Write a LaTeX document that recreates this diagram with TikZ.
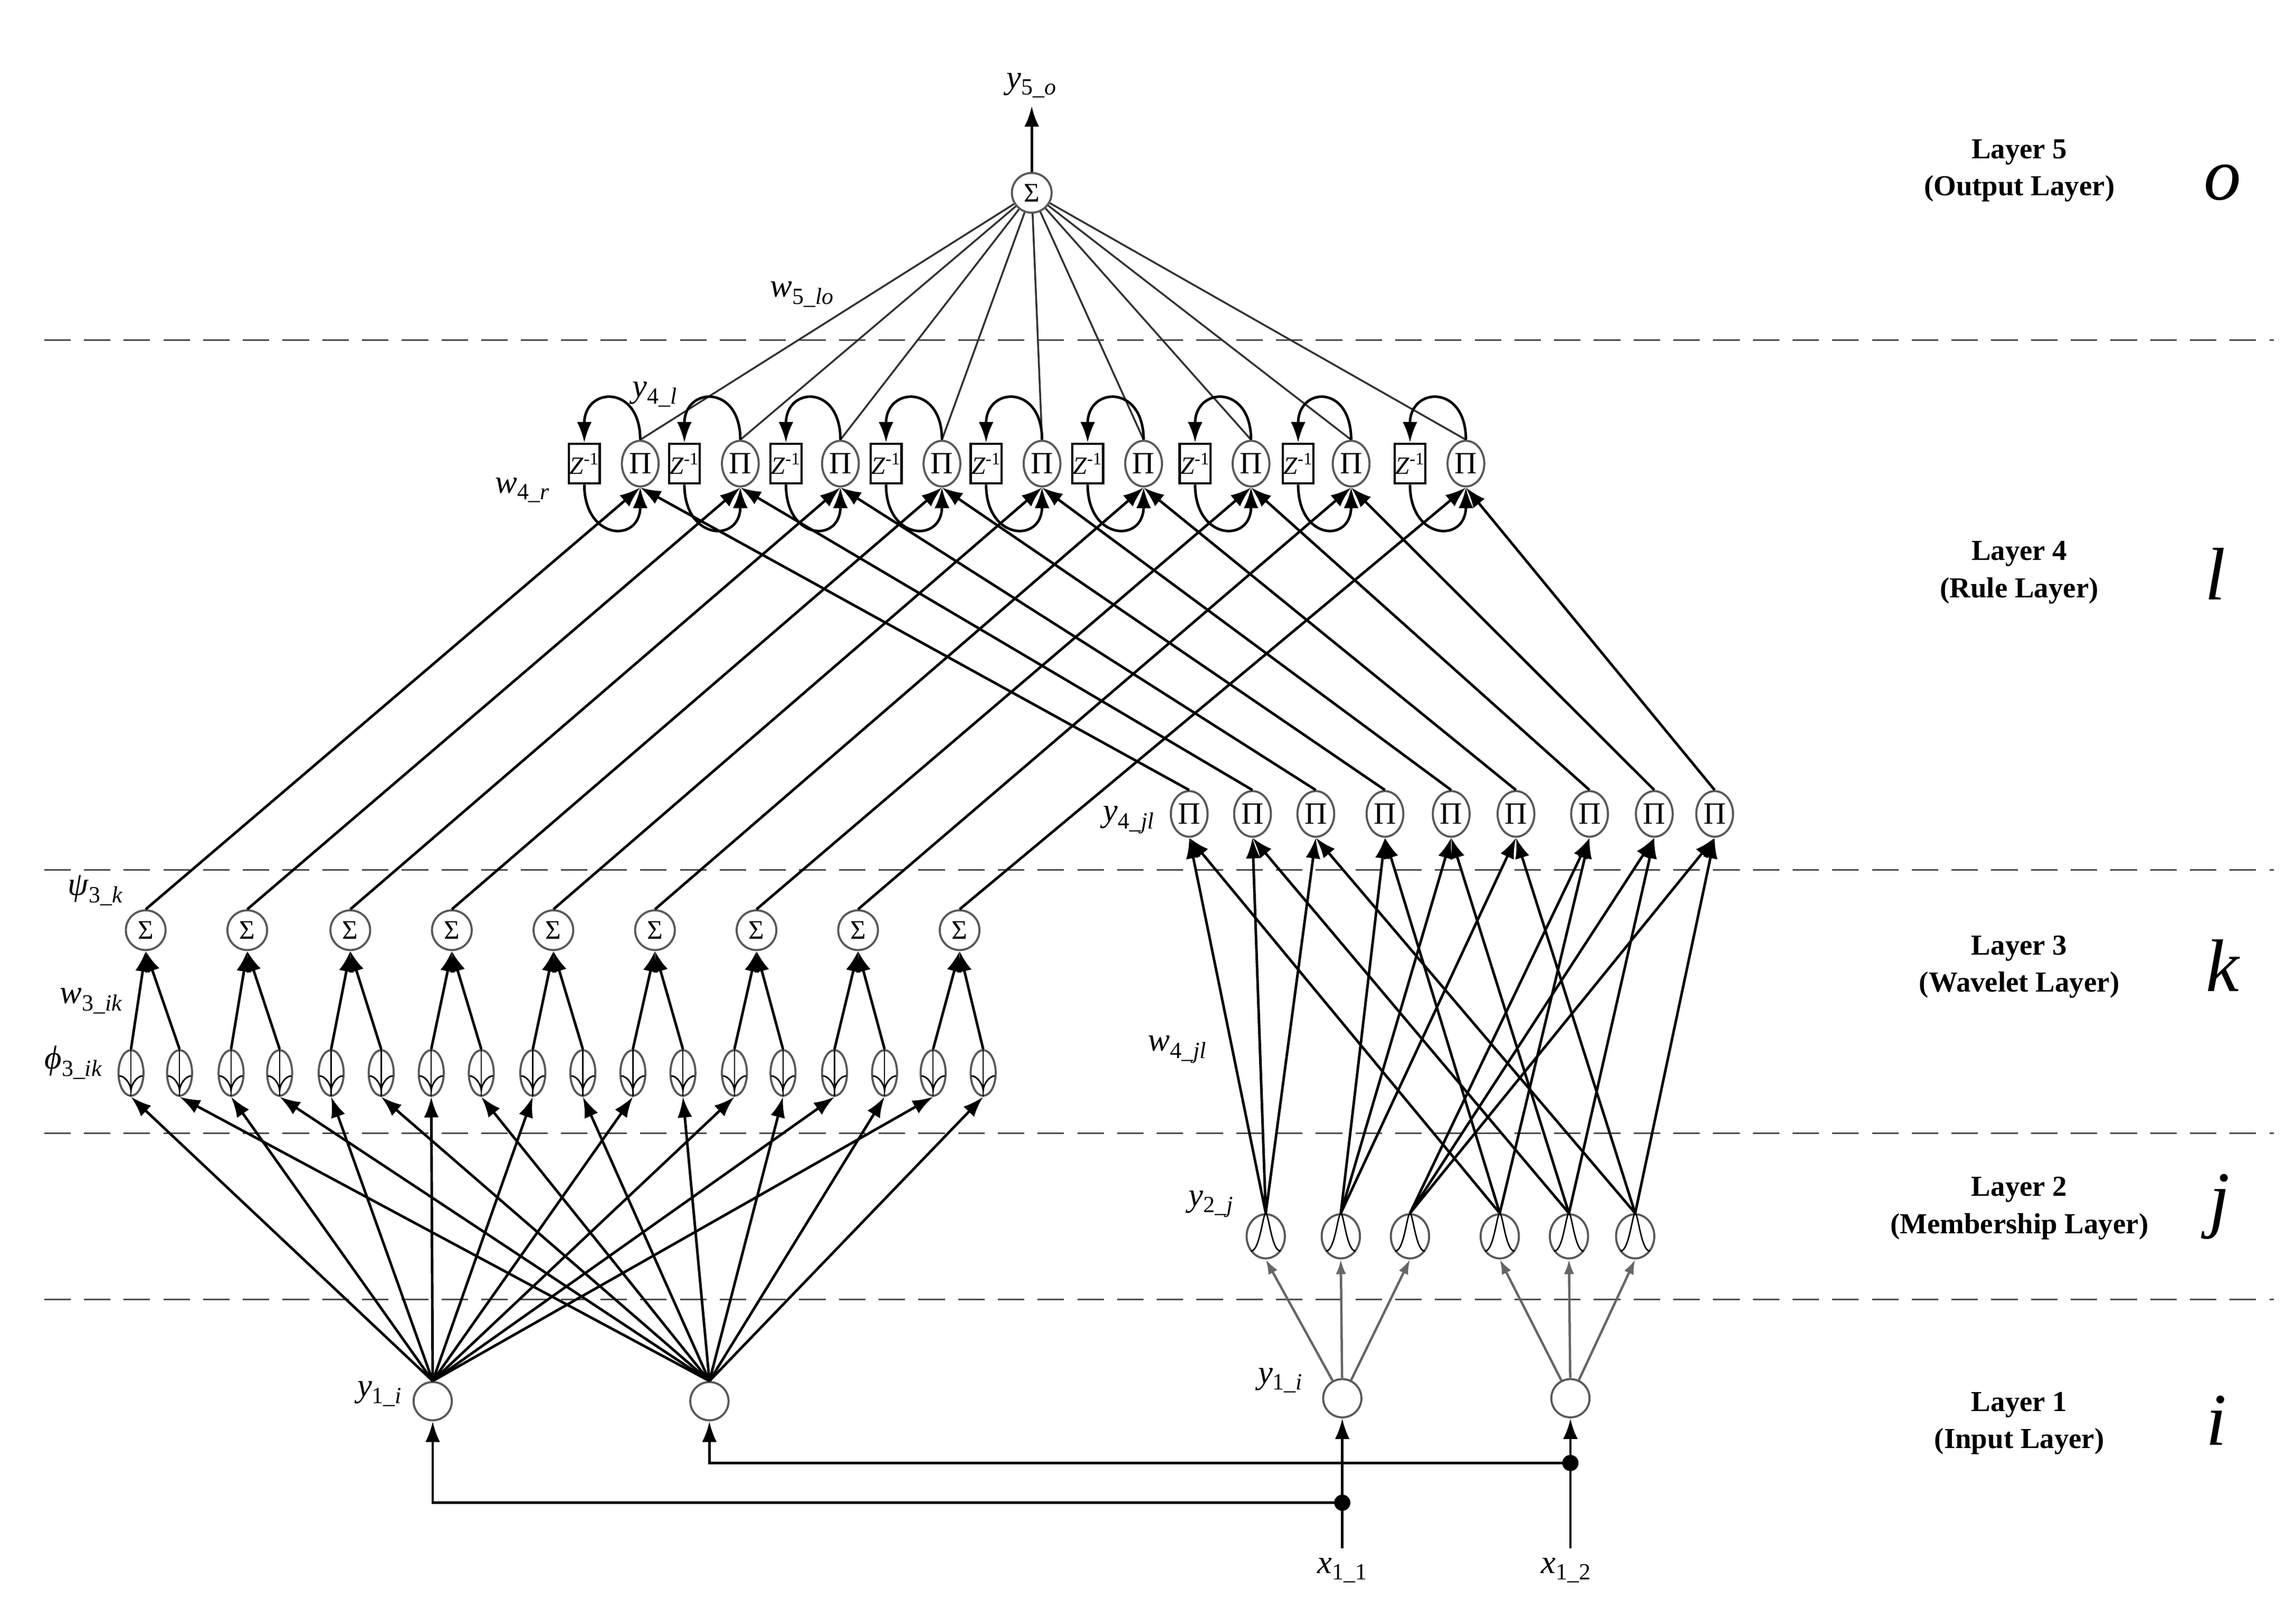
\documentclass[tikz,border=0pt]{standalone}
\usepackage{fontspec}
\setmainfont{Liberation Serif}
\usetikzlibrary{arrows.meta,shapes.geometric}
\newcommand\lbl[2]{\textit{#1}\textsubscript{#2}}
\begin{document}
\begin{tikzpicture}[x=0.05cm,y=-0.05cm,
  ln/.style={line width=2.5pt,black},
  ar/.style={ln,-{Latex[length=0.7cm,width=0.5cm]}},
  gar/.style={line width=2.3pt,gray!80!black,-{Latex[length=0.5cm,width=0.35cm]}},
  nd/.style={draw=gray!70!black,line width=2pt,fill=white,inner sep=0pt},
  sg/.style={nd,circle,minimum size=1.35cm,font=\fontsize{26}{26}\selectfont},
  pl/.style={nd,ellipse,minimum width=1.25cm,minimum height=1.55cm,font=\fontsize{30}{30}\selectfont},
  zb/.style={draw,line width=2.2pt,fill=white,minimum width=1.05cm,minimum height=1.35cm,inner sep=0pt,font=\fontsize{24}{24}\selectfont},
  ph/.style={nd,ellipse,minimum width=0.85cm,minimum height=1.55cm},
  mu/.style={nd,ellipse,minimum width=1.3cm,minimum height=1.5cm},
  inp/.style={nd,circle,minimum size=1.3cm},
  lab/.style={font=\fontsize{32}{32}\selectfont},
  lay/.style={font=\bfseries\fontsize{28}{36}\selectfont,align=center},
  big/.style={font=\itshape\fontsize{72}{72}\selectfont},
  dl/.style={line width=1.5pt,gray!60!black,dash pattern=on 0.9cm off 0.45cm}]
\useasboundingbox (0,0) rectangle (1560,1087);
% dashed lines
\foreach \yy/\nm in {231/a,591/b,770/c,883/d}{
  \coordinate (dL\nm) at (30,\yy); \coordinate (dR\nm) at (1545,\yy);
  \draw[dl] (dL\nm) -- (dR\nm);}
% output
\node[sg] (O) at (701,131) {Σ};
\coordinate (yo) at (701,72);
\draw[ar] (O) -- (yo);
\node[lab] at (701,58) {\lbl{y}{5\_\textit{o}}};
% layer 4 Z and Pi
\foreach \i/\zx/\px in {1/397/435,2/465/503,3/534/571,4/602/640,5/670/708,6/739/777,7/812/850,8/882/918,9/958/996}{
  \node[zb] (Z\i) at (\zx,315) {\textit{Z}\textsuperscript{-1}};
  \node[pl] (P\i) at (\px,315) {Π};
  \draw[line width=1.8pt,gray!40!black] (O) -- (P\i.north);
  \draw[ar] (P\i.north) .. controls +(0,-38) and +(0,-38) .. (Z\i.north);
  \draw[ar] (Z\i.south) .. controls +(0,38) and +(0,38) .. (P\i.south);
}
% rule-layer Pi (jl)
\foreach \i/\xx in {1/808,2/851,3/894,4/941,5/986,6/1030,7/1080,8/1124,9/1165}{
  \node[pl] (Q\i) at (\xx,553) {Π};
}
% wavelet sums
\foreach \i/\xx in {1/99,2/168,3/238,4/307,5/376,6/445,7/514,8/583,9/652}{
  \node[sg] (S\i) at (\xx,632) {Σ};
}
% phi nodes
\foreach \i/\xx in {1/89,2/122,3/157,4/190,5/225,6/259,7/293,8/327,9/362,10/396,11/430,12/464,13/499,14/532,15/567,16/601,17/634,18/668}{
  \node[ph] (F\i) at (\xx,729) {};
  \draw[line width=1.2pt] (F\i.north) -- (F\i.south);
  \draw[line width=1.5pt] ([shift={(-8,2)}]F\i.center) .. controls +(4,0) and +(0,-4) .. ([shift={(0,12)}]F\i.center) .. controls +(0,-4) and +(-4,0) .. ([shift={(8,2)}]F\i.center);
}
% membership
\foreach \i/\xx in {1/860,2/911,3/958,4/1019,5/1066,6/1111}{
  \node[mu] (M\i) at (\xx,840) {};
  \draw[line width=1.4pt] ([shift={(-10,10)}]M\i.center) .. controls +(6,0) and +(-2,0) .. (M\i.north) .. controls +(2,0) and +(-6,0) .. ([shift={(10,10)}]M\i.center);
}
% inputs
\node[inp] (I1) at (294,952) {};
\node[inp] (I2) at (482,952) {};
\node[inp] (I3) at (912,950) {};
\node[inp] (I4) at (1067,950) {};
\coordinate (X1) at (912,1052);
\coordinate (X2) at (1067,1052);
\coordinate (J1) at (912,1021);
\coordinate (J2) at (1067,994);
\draw[ar] (X1) -- (I3);
\draw[ar] (X2) -- (I4);
\draw[ar] (J1) -| (I1);
\draw[ar] (J2) -| (I2);
\fill (J1) circle (5.5); \fill (J2) circle (5.5);
% membership arrows
\foreach \m in {1,2,3}{\draw[gar] (I3) -- (M\m.south);}
\foreach \m in {4,5,6}{\draw[gar] (I4) -- (M\m.south);}
% inputs to phi
\foreach \k in {1,3,5,7,9,11,13,15,17}{\draw[ar] (I1.north) -- (F\k.south);}
\foreach \k in {2,4,6,8,10,12,14,16,18}{\draw[ar] (I2.north) -- (F\k.south);}
% phi to sums
\foreach \k [evaluate=\k as \a using int(2*\k-1), evaluate=\k as \b using int(2*\k)] in {1,...,9}{
  \draw[ar] (F\a.north) -- (S\k.south);
  \draw[ar] (F\b.north) -- (S\k.south);
  \draw[ar] (S\k.north) -- (P\k.south);
  \draw[ar] (Q\k.north) -- (P\k.south);
}
% membership to rules
\foreach \q/\a/\b in {1/1/4,2/1/5,3/1/6,4/2/4,5/2/5,6/2/6,7/3/4,8/3/5,9/3/6}{
  \draw[ar] (M\a.north) -- (Q\q.south);
  \draw[ar] (M\b.north) -- (Q\q.south);
}
% labels
\node[lab] at (545,200) {\lbl{w}{5\_\textit{lo}}};
\node[lab] at (445,268) {\lbl{y}{4\_\textit{l}}};
\node[lab] at (355,333) {\lbl{w}{4\_\textit{r}}};
\node[lab] at (767,557) {\lbl{y}{4\_\textit{jl}}};
\node[lab] at (65,605) {\lbl{ψ}{3\_\textit{k}}};
\node[lab] at (62,680) {\lbl{w}{3\_\textit{ik}}};
\node[lab] at (50,722) {\lbl{ϕ}{3\_\textit{ik}}};
\node[lab] at (800,713) {\lbl{w}{4\_\textit{jl}}};
\node[lab] at (823,818) {\lbl{y}{2\_\textit{j}}};
\node[lab] at (258,947) {\lbl{y}{1\_\textit{i}}};
\node[lab] at (870,938) {\lbl{y}{1\_\textit{i}}};
\node[lab] at (912,1067) {\lbl{x}{1\_1}};
\node[lab] at (1064,1067) {\lbl{x}{1\_2}};
\node[lay] at (1372,116) {Layer 5\\(Output Layer)};
\node[lay] at (1372,389) {Layer 4\\(Rule Layer)};
\node[lay] at (1372,657) {Layer 3\\(Wavelet Layer)};
\node[lay] at (1372,821) {Layer 2\\(Membership Layer)};
\node[lay] at (1372,967) {Layer 1\\(Input Layer)};
\node[big] at (1510,124) {o};
\node[big] at (1505,390) {l};
\node[big] at (1510,656) {k};
\node[big] at (1508,820) {j};
\node[big] at (1506,965) {i};
\end{tikzpicture}
\end{document}
